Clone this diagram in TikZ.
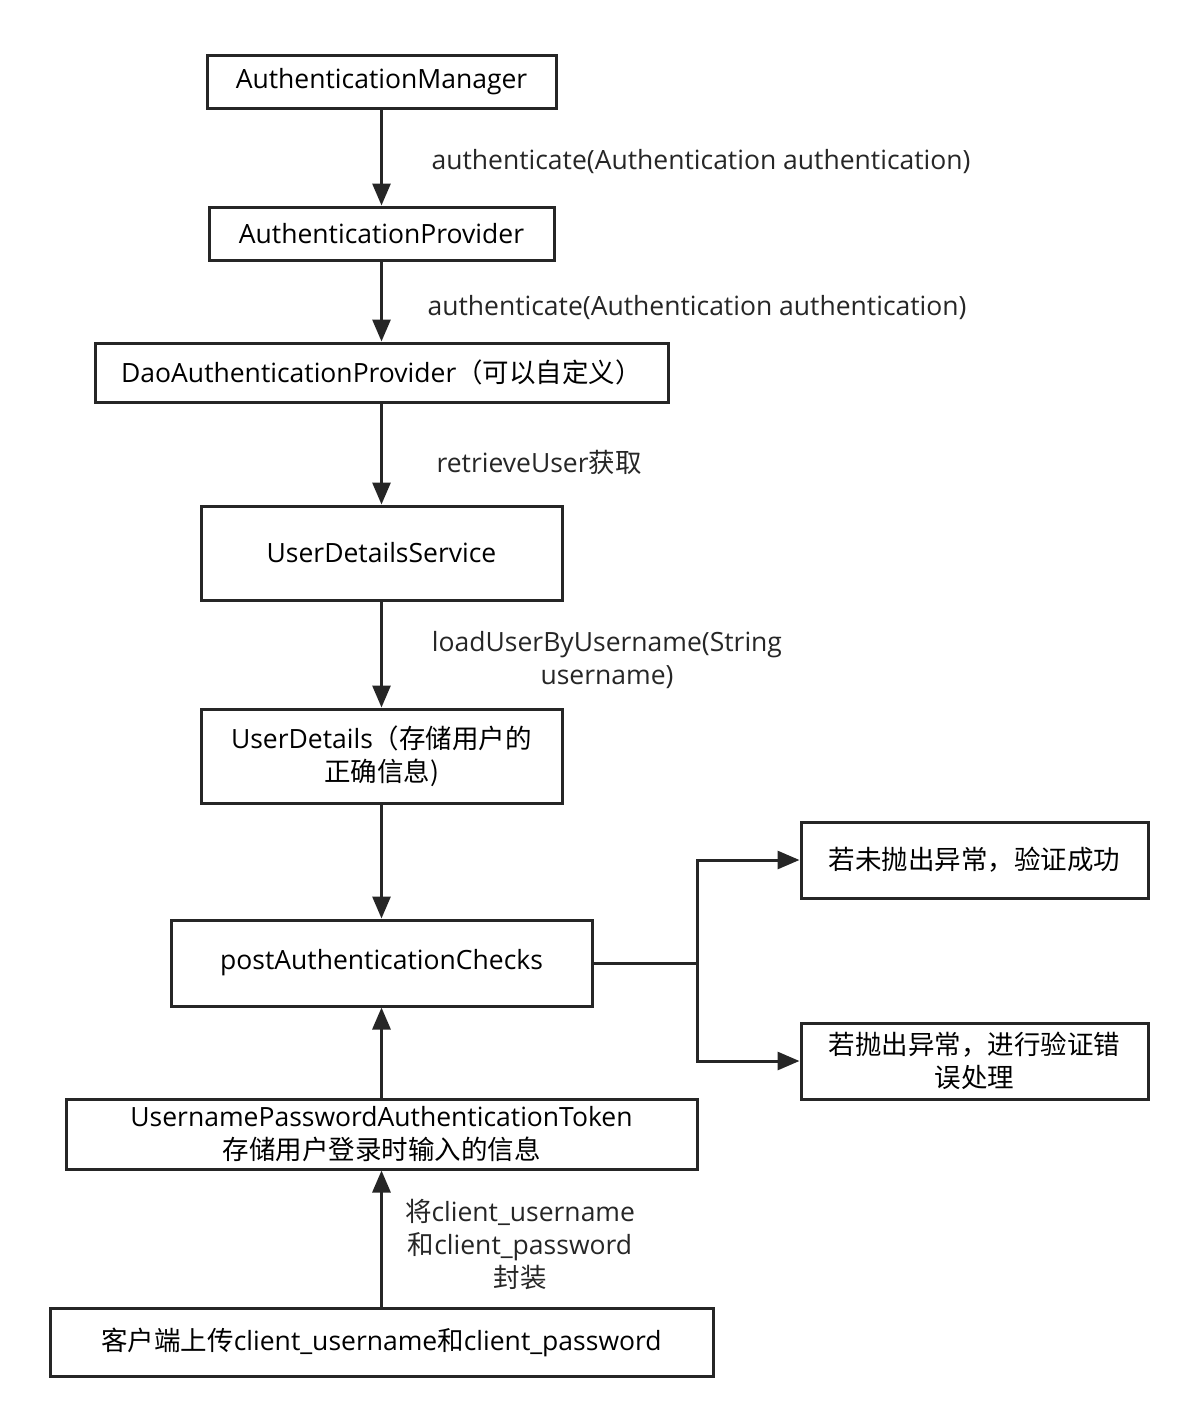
\documentclass[tikz,border=0pt]{standalone}
\usepackage{fontspec}
\setmainfont{Open Sans}
\newfontfamily\cjk{Noto Sans CJK SC}
\usetikzlibrary{arrows.meta}
\begin{document}
\begin{tikzpicture}[x=1pt,y=-1pt,
  box/.style={draw=black!85,line width=3pt,inner sep=0pt,align=center,font=\fontsize{26.5}{33}\selectfont},
  conn/.style={draw=black!85,line width=3pt,-{Triangle[length=22pt,width=18pt]}},
  lbl/.style={font=\fontsize{26.5}{33}\selectfont,align=center,text=black!85}]
\useasboundingbox (0,0) rectangle (1197,1424);
\def\bx#1#2#3#4#5#6{\node[box,minimum width=#4-#2,minimum height=#5-#3] (#1) at ({(#2+#4)/2},{(#3+#5)/2}) {#6};}
\bx{am}{207}{55}{556}{108}{AuthenticationManager}
\bx{ap}{209}{207}{554}{260}{AuthenticationProvider}
\bx{dao}{95}{343}{668}{402}{DaoAuthenticationProvider{\cjk（可以自定义）}}
\bx{uds}{201}{506}{562}{600}{UserDetailsService}
\bx{ud}{201}{709}{562}{803}{UserDetails{\cjk（存储用户的}\\{\cjk 正确信息}{\cjk )}}
\bx{pac}{171}{920}{592}{1006}{postAuthenticationChecks}
\bx{upat}{66}{1099}{697}{1169}{UsernamePasswordAuthenticationToken\\{\cjk 存储用户登录时输入的信息}}
\bx{cli}{50}{1308}{713}{1376}{{\cjk 客户端上传}client\_username{\cjk 和}client\_password}
\bx{ok}{801}{822}{1148}{898}{\cjk 若未抛出异常，验证成功}
\bx{err}{801}{1023}{1148}{1099}{\cjk 若抛出异常，进行验证错\\\cjk 误处理}
\draw[conn] (am) -- (ap);
\draw[conn] (ap) -- (dao);
\draw[conn] (dao) -- (uds);
\draw[conn] (uds) -- (ud);
\draw[conn] (ud) -- (pac);
\draw[conn] (upat) -- (pac);
\draw[conn] (cli) -- (upat);
\coordinate (br) at (697,963);
\draw[conn] (pac.east) -- (br) |- (ok.west);
\draw[conn] (br) |- (err.west);
\node[lbl,anchor=west] (l1) at (428,162) {authenticate(Authentication authentication)};
\node[lbl,anchor=west] (l2) at (424,308) {authenticate(Authentication authentication)};
\node[lbl,anchor=west] (l3) at (433,462) {retrieveUser{\cjk 获取}};
\node[lbl] (l4) at (607,660) {loadUserByUsername(String\\username)};
\node[lbl] (l5) at (520,1244) {{\cjk 将}client\_username\\{\cjk 和}client\_password\\{\cjk 封装}};
\end{tikzpicture}
\end{document}
